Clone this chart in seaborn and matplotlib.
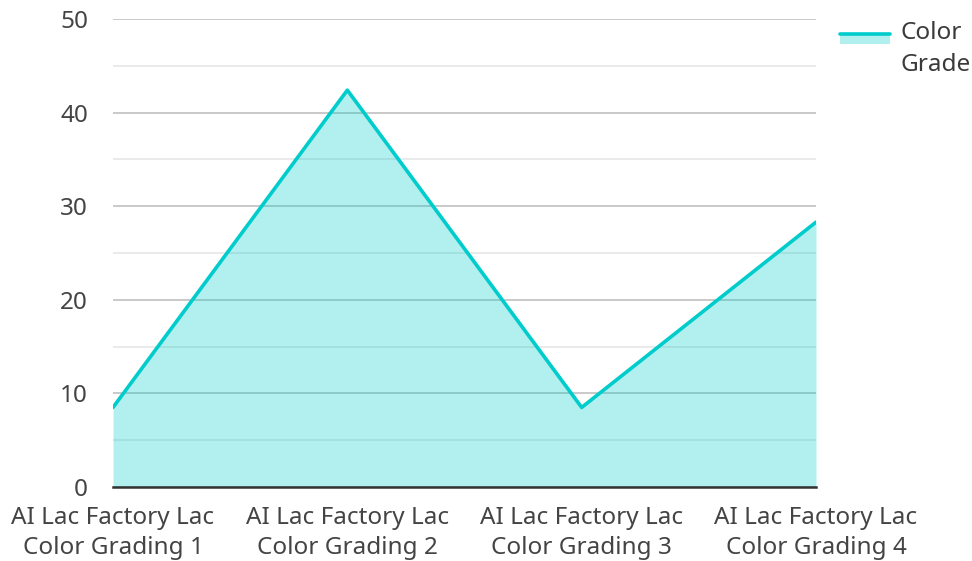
import matplotlib
matplotlib.use("Agg")
import matplotlib.pyplot as plt
import seaborn as sns
import pandas as pd
import numpy as np
from matplotlib.legend_handler import HandlerBase
from matplotlib.patches import Rectangle
from matplotlib.lines import Line2D

categories = ["AI Lac Factory Lac\nColor Grading 1", "AI Lac Factory Lac\nColor Grading 2",
              "AI Lac Factory Lac\nColor Grading 3", "AI Lac Factory Lac\nColor Grading 4"]
values = [8.5, 42.4, 8.5, 28.3]
series_name = "Color\nGrade"
yticks = [0, 10, 20, 30, 40, 50]

LINE = "#00cccc"
FILL = "#00cccc"
FS = 17.5

sns.set_theme(style="white")
plt.rcParams['font.family'] = ['Noto Sans', 'DejaVu Sans']

df = pd.DataFrame({"cat": categories, "val": values})

fig = plt.figure(figsize=(9.72, 5.61), dpi=100)
ax = fig.add_axes([113/972, 1-487/561, (816-113)/972, (487-19)/561])

sns.lineplot(data=df, x="cat", y="val", ax=ax, color=LINE, linewidth=2.6, sort=False, zorder=4)
xpos = np.arange(len(categories))
ax.fill_between(xpos, values, 0, color=FILL, alpha=0.3, linewidth=0, zorder=3)

ax.set_xlim(0, len(categories) - 1)
ax.set_ylim(0, 50)
ax.set_yticks(yticks)
ax.set_yticks([5, 15, 25, 35, 45], minor=True)
ax.grid(axis="y", which="major", color="#c0c0c0", linewidth=1.2, zorder=1)
ax.grid(axis="y", which="minor", color="#e6e6e6", linewidth=1.2, zorder=1)
ax.set_axisbelow(True)
for s in ["left", "right", "top"]:
    ax.spines[s].set_visible(False)
ax.spines["bottom"].set_color("#333333")
ax.spines["bottom"].set_linewidth(1.8)
ax.spines["bottom"].set_zorder(5)
ax.tick_params(axis="both", which="both", length=0, labelsize=FS, colors="#444444")
ax.tick_params(axis="y", pad=18)
ax.tick_params(axis="x", pad=13.5)
for t in ax.get_xticklabels():
    t.set_linespacing(1.35)
ax.set_xlabel("")
ax.set_ylabel("")


class AreaHandler(HandlerBase):
    def create_artists(self, legend, orig_handle, xdescent, ydescent, width, height, fontsize, trans):
        cy = -ydescent + height / 2 + 0.66 * fontsize
        rect = Rectangle((-xdescent, cy - 0.42 * fontsize), width, 0.42 * fontsize,
                         facecolor=FILL, alpha=0.3, linewidth=0, transform=trans)
        ln = Line2D([-xdescent, -xdescent + width], [cy, cy],
                    color=LINE, linewidth=2.6, transform=trans)
        return [rect, ln]


handle = Rectangle((0, 0), 1, 1)
leg = fig.legend([handle], [series_name], handler_map={Rectangle: AreaHandler()},
                 loc="upper left", bbox_to_anchor=(840/972, 1-21/561), frameon=False,
                 borderpad=0, borderaxespad=0,
                 fontsize=FS, handlelength=2.06, handletextpad=0.41, labelcolor="#3a3a3a")
for t in leg.get_texts():
    t.set_linespacing(1.45)

fig.savefig("out.png", dpi=100)
